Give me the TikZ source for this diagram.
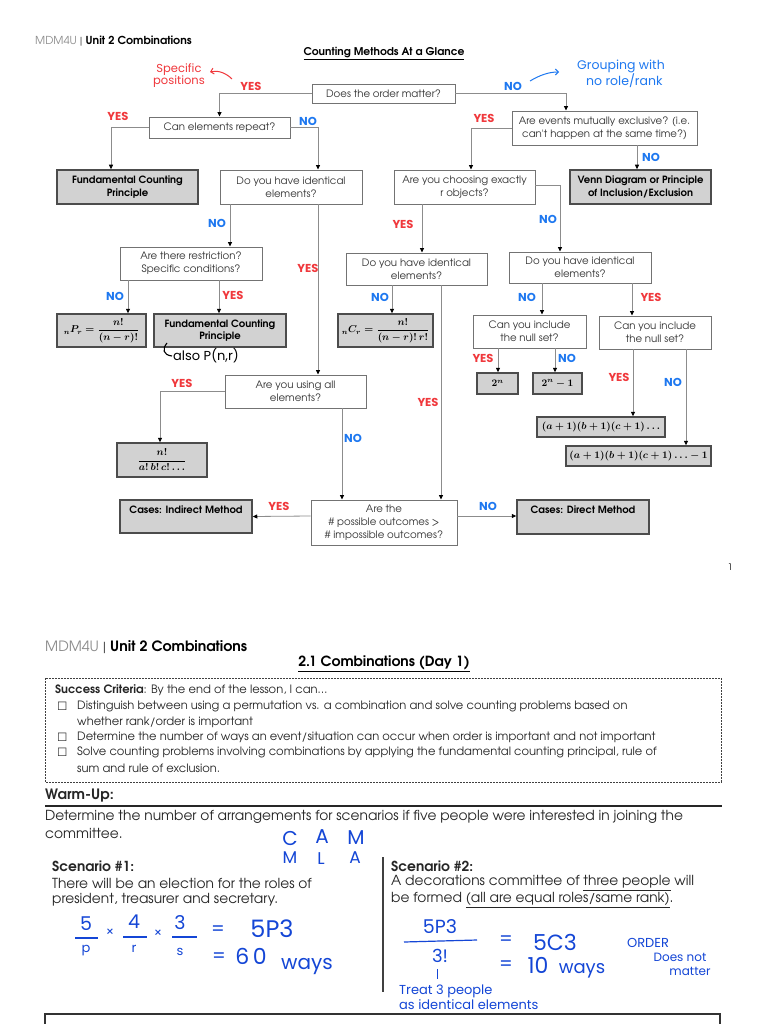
\documentclass[tikz,border=0pt]{standalone}
\usepackage{fontspec}
\usetikzlibrary{arrows.meta,calc}
\newfontfamily\adv{TeX Gyre Adventor}
\newfontfamily\hand{Poppins}
\newfontfamily\dejavu{DejaVu Sans}
\definecolor{hred}{HTML}{F0383C}
\definecolor{hblue}{HTML}{1E78F0}
\definecolor{ink}{HTML}{1446D6}
\definecolor{boxgray}{HTML}{D2D2D2}
\newcommand\qfont{\adv\fontsize{10.2}{12.8}\selectfont}
\newcommand\afont{\adv\bfseries\fontsize{10}{12.8}\selectfont}
\newcommand\lblfont{\hand\bfseries\fontsize{11.5}{12}\selectfont}
\newcommand\inkfont[1]{\hand\fontsize{#1}{#1}\selectfont}
\newcommand\mathsm{\fontsize{10}{12}\selectfont}
\newcommand\fnpr{\mbox{\boldmath$\displaystyle {}_{n}P_{r}=\frac{n!}{(n-r)!}$}}
\newcommand\fncr{\mbox{\boldmath$\displaystyle {}_{n}C_{r}=\frac{n!}{(n-r)!\,r!}$}}
\newcommand\fpow{\mbox{\boldmath$2^{n}$}}
\newcommand\fpowm{\mbox{\boldmath$2^{n}-1$}}
\newcommand\fabc{\mbox{\boldmath$(a+1)(b+1)(c+1)\ldots$}}
\newcommand\fabcm{\mbox{\boldmath$(a+1)(b+1)(c+1)\ldots-1$}}
\newcommand\fperm{\mbox{\boldmath$\displaystyle\frac{n!}{a!\,b!\,c!\ldots}$}}
\tikzset{
  q/.style={draw=black!55, line width=0.9pt, fill=white, align=center, inner sep=0pt, text=black!80, font=\qfont},
  ans/.style={draw=black!70, line width=1.5pt, fill=boxgray, align=center, inner sep=0pt, text=black, font=\afont},
  ansm/.style={ans, font=\mathsm},
  flow/.style={draw=black!45, line width=0.8pt, -{Triangle[length=4.5pt,width=4pt,color=black]}},
  yes/.style={text=hred, font=\lblfont, inner sep=0pt},
  no/.style={text=hblue, font=\lblfont, inner sep=0pt},
  inkw/.style={text=ink, inner sep=0pt},
  body/.style={anchor=west, inner sep=0pt, text=black!85, font=\adv\fontsize{13.8}{15}\selectfont},
  crit/.style={anchor=west, inner sep=0pt, text=black!85, font=\adv\fontsize{11.5}{13}\selectfont},
}
\begin{document}
\begin{tikzpicture}[x=1pt,y=-1pt]
\useasboundingbox (0,0) rectangle (768,1024);
\fill[white] (0,0) rectangle (768,1024);

% ---------------- Page 1 ----------------
\node[anchor=west, inner sep=0pt, font=\adv\fontsize{11}{12}\selectfont] (hdr1) at (35,41) {\textcolor{black!45}{MDM4U}\ \textcolor{black!70}{|}\ \textbf{Unit 2 Combinations}};
\node[inner sep=0pt, font=\adv\bfseries\fontsize{10.7}{12}\selectfont] (title1) at (384,54) {\underline{Counting Methods At a Glance}};

\node[q, minimum width=143pt, minimum height=19pt] (order) at (383.5,93.5) {Does the order matter?};
\node[q, minimum width=141pt, minimum height=21pt] (repeat) at (219.5,127.5) {Can elements repeat?};
\node[q, minimum width=185pt, minimum height=34pt] (mutex) at (604.5,128) {Are events mutually exclusive? (i.e.\\can't happen at the same time?)};
\node[ans, minimum width=141pt, minimum height=34pt] (fcp1) at (127.5,187) {Fundamental Counting\\Principle};
\node[q, minimum width=142pt, minimum height=34pt] (ident1) at (291,187) {Do you have identical\\elements?};
\node[q, minimum width=141pt, minimum height=34pt] (choose) at (464.5,187) {Are you choosing exactly\\r objects?};
\node[ans, minimum width=141pt, minimum height=34pt] (venn) at (640.5,187) {Venn Diagram or Principle\\of Inclusion/Exclusion};
\node[q, minimum width=142pt, minimum height=33pt] (restr) at (191,263.5) {Are there restriction?\\Specific conditions?};
\node[ansm, minimum width=89pt, minimum height=33pt] (npr) at (101.5,330.5) {\fnpr};
\node[ans, minimum width=132pt, minimum height=33pt] (fcp2) at (220,330.5) {Fundamental Counting\\Principle};
\node[q, minimum width=141pt, minimum height=32pt] (ident2) at (416.5,269) {Do you have identical\\elements?};
\node[ansm, minimum width=95pt, minimum height=33pt] (ncr) at (385.5,330.5) {\fncr};
\node[q, minimum width=142pt, minimum height=31pt] (ident3) at (580,267.5) {Do you have identical\\elements?};
\node[q, minimum width=113pt, minimum height=33pt] (null1) at (529.5,331.5) {Can you include\\the null set?};
\node[q, minimum width=112pt, minimum height=33pt] (null2) at (655,332.5) {Can you include\\the null set?};
\node[ansm, minimum width=41pt, minimum height=21pt] (pow) at (497.5,383.5) {\fpow};
\node[ansm, minimum width=49pt, minimum height=21pt] (powm) at (557.5,383.5) {\fpowm};
\node[ansm, minimum width=128pt, minimum height=20pt] (abc) at (601,427) {\fabc};
\node[ansm, minimum width=145pt, minimum height=20pt] (abcm) at (638.5,456) {\fabcm};
\node[q, minimum width=141pt, minimum height=33pt] (allel) at (295.5,391.5) {Are you using all\\elements?};
\node[ansm, minimum width=90pt, minimum height=34pt] (perm) at (162,460) {\fperm};
\node[q, minimum width=146pt, minimum height=45pt] (outc) at (384,522.5) {Are the\\\# possible outcomes >\\\# impossible outcomes?};
\node[ans, minimum width=132pt, minimum height=33pt, text depth=14pt] (indir) at (186,516.5) {Cases: Indirect Method};
\node[ans, minimum width=132pt, minimum height=34pt, text depth=14pt] (dir) at (583,517) {Cases: Direct Method};
\node[inner sep=0pt, font=\adv\fontsize{9}{10}\selectfont] (pg1) at (730,567) {1};

% connectors
\draw[flow] (order.west) -| (repeat.north);
\draw[flow] (order.east) -| ([xshift=-38.5pt]mutex.north);
\draw[flow] (repeat.west) -| ([xshift=-16.5pt]fcp1.north);
\draw[flow] (repeat.east) -| ([xshift=27pt]ident1.north);
\draw[flow] (mutex.west) -| ([xshift=6.5pt]choose.north);
\draw[flow] ([xshift=32.5pt]mutex.south) -- ([xshift=-3.5pt]venn.north);
\draw[flow] ([xshift=-61pt]ident1.south) -- ([xshift=39pt]restr.north);
\draw[flow] ([xshift=27pt]ident1.south) -- ([xshift=22.5pt]allel.north);
\draw[flow] ([xshift=-63pt]restr.south) -- ([xshift=26.5pt]npr.north);
\draw[flow] ([xshift=28pt]restr.south) -- ([xshift=-1pt]fcp2.north);
\draw[flow] ([xshift=-42.5pt]choose.south) -- ([xshift=5.5pt]ident2.north);
\draw[flow] ([yshift=2pt]choose.east) -| ([xshift=-20pt]ident3.north);
\draw[flow] ([xshift=-24.5pt]ident2.south) -- ([xshift=6.5pt]ncr.north);
\draw[flow] ([xshift=24.5pt]ident2.south) -- ([xshift=57pt]outc.north);
\draw[flow] ([xshift=-38pt]ident3.south) -- ([xshift=12.5pt]null1.north);
\draw[flow] ([xshift=52pt]ident3.south) -- ([xshift=-23pt]null2.north);
\draw[flow] ([xshift=-31.5pt]null1.south) -- ([xshift=0.5pt]pow.north);
\draw[flow] ([xshift=25.5pt]null1.south) -- ([xshift=-2.5pt]powm.north);
\draw[flow] ([xshift=-22pt]null2.south) -- ([xshift=32pt]abc.north);
\draw[flow] ([xshift=31pt]null2.south) -- ([xshift=47.5pt]abcm.north);
\draw[flow] (allel.west) -| ([xshift=-2pt]perm.north);
\draw[flow] ([xshift=46.5pt]allel.south) -- ([xshift=-42pt]outc.north);
\draw[flow] ([yshift=6.5pt]outc.west) -- (indir.east);
\draw[flow] ([yshift=6.5pt]outc.east) -- ([yshift=1pt]dir.west);

% labels
\node[yes] (l1) at (251,86) {YES};
\node[no]  (l2) at (513,86) {NO};
\node[yes] (l3) at (118,116) {YES};
\node[no]  (l4) at (308,121) {NO};
\node[yes] (l5) at (484,118) {YES};
\node[no]  (l6) at (651,157) {NO};
\node[no]  (l7) at (217,223) {NO};
\node[yes] (l8) at (308,268) {YES};
\node[no]  (l9) at (115,296) {NO};
\node[yes] (l10) at (233,295) {YES};
\node[yes] (l11) at (403,224) {YES};
\node[no]  (l12) at (548,219) {NO};
\node[no]  (l13) at (380,297) {NO};
\node[yes] (l14) at (428,402) {YES};
\node[no]  (l15) at (527,297) {NO};
\node[yes] (l16) at (651,297) {YES};
\node[yes] (l17) at (483,358) {YES};
\node[no]  (l18) at (567,358) {NO};
\node[yes] (l19) at (619,377) {YES};
\node[no]  (l20) at (673,382) {NO};
\node[yes] (l21) at (182,383) {YES};
\node[no]  (l22) at (353,438) {NO};
\node[yes] (l23) at (279,506) {YES};
\node[no]  (l24) at (488,506) {NO};

% annotations
\node[text=hred, inner sep=0pt, align=center, font=\hand\fontsize{11.5}{12}\selectfont] (spec) at (179,76) {Specific\\positions};
\coordinate (specA) at (232,79);
\coordinate (specB) at (210,72);
\draw[hred, line width=1pt, -{Straight Barb[length=3pt]}] (specA) .. controls (226,73) and (218,70) .. (specB);
\node[text=hblue, inner sep=0pt, align=center, font=\hand\fontsize{12.5}{12.5}\selectfont] (grp) at (621,74) {Grouping with\\\ \ no role/rank};
\coordinate (grpA) at (530,81);
\coordinate (grpB) at (559,72);
\draw[hblue, line width=1pt, -{Straight Barb[length=3pt]}] (grpA) .. controls (540,75) and (549,72) .. (grpB);
\node[inner sep=0pt, font=\hand\fontsize{13}{13}\selectfont] (also) at (206,356) {also P(n,r)};
\coordinate (hookA) at (167,343);
\coordinate (hookB) at (172,356);
\draw[black, line width=1.1pt] (hookA) .. controls (162,349) and (163,355) .. (hookB);

% ---------------- Page 2 ----------------
\node[anchor=west, inner sep=0pt, font=\adv\fontsize{14.2}{16}\selectfont] (hdr2) at (45,647) {\textcolor{black!45}{MDM4U}\ \textcolor{black!70}{|}\ \textbf{Unit 2 Combinations}};
\node[inner sep=0pt, font=\adv\bfseries\fontsize{14}{16}\selectfont] (title2) at (384,664) {\underline{2.1 Combinations (Day 1)}};

\draw[black!75, line width=0.9pt, dash pattern=on 2pt off 1pt] (45,678) rectangle (721,782);
\node[crit] (sc0) at (55,690) {\textbf{Success Criteria}: By the end of the lesson, I can…};
\node[crit] (cb1) at (57,706) {\dejavu ☐};
\node[crit] (sc1) at (77,706) {Distinguish between using a permutation vs. a combination and solve counting problems based on};
\node[crit] (sc1b) at (77,722) {whether rank/order is important};
\node[crit] (cb2) at (57,737) {\dejavu ☐};
\node[crit] (sc2) at (77,737) {Determine the number of ways an event/situation can occur when order is important and not important};
\node[crit] (cb3) at (57,752) {\dejavu ☐};
\node[crit] (sc3) at (77,752) {Solve counting problems involving combinations by applying the fundamental counting principal, rule of};
\node[crit] (sc3b) at (77,768) {sum and rule of exclusion.};

\node[body, font=\adv\bfseries\fontsize{14.3}{16}\selectfont] (warm) at (45,796) {Warm-Up:};
\draw[black!85, line width=1.2pt] (45,806) -- (722,806);
\node[body] (w1) at (45,817) {Determine the number of arrangements for scenarios if five people were interested in joining the};
\node[body] (w2) at (45,833) {committee.};

\node[body, font=\adv\bfseries\fontsize{13.8}{15}\selectfont] (s1) at (52,866) {Scenario \#1:};
\node[body] (s1a) at (52,883) {There will be an election for the roles of};
\node[body] (s1b) at (52,900) {president, treasurer and secretary.};
\draw[black!75, line width=1.3pt] (383,857) -- (383,992);
\node[body, font=\adv\bfseries\fontsize{13.8}{15}\selectfont] (s2) at (391,866) {Scenario \#2:};
\node[body] (s2a) at (391,883) {A decorations committee of \underline{three people} will};
\node[body] (s2b) at (391,900) {be formed \underline{(all are equal roles/same rank)}.};

% handwriting page 2
\node[inkw, font=\inkfont{20}] (c1) at (290,838) {C};
\node[inkw, font=\inkfont{20}] (c2) at (322,837) {A};
\node[inkw, font=\inkfont{20}] (c3) at (356,838) {M};
\node[inkw, font=\inkfont{17}] (c4) at (290,858) {M};
\node[inkw, font=\inkfont{17}] (c5) at (321,859) {L};
\node[inkw, font=\inkfont{17}] (c6) at (355,858) {A};

\node[inkw, font=\inkfont{19}] (f1n) at (86,924) {5};
\node[inkw, font=\inkfont{13}] (f1d) at (86,951) {p};
\draw[ink, line width=1.2pt] (75,938) -- (98,938);
\node[inkw, font=\inkfont{13}] (x1) at (110,933) {×};
\node[inkw, font=\inkfont{19}] (f2n) at (134,922) {4};
\node[inkw, font=\inkfont{13}] (f2d) at (134,949) {r};
\draw[ink, line width=1.2pt] (123,937) -- (147,937);
\node[inkw, font=\inkfont{13}] (x2) at (158,934) {×};
\node[inkw, font=\inkfont{19}] (f3n) at (180,923) {3};
\node[inkw, font=\inkfont{13}] (f3d) at (180,952) {s};
\draw[ink, line width=1.2pt] (172,937) -- (197,937);
\node[inkw, font=\inkfont{19}] (eq1) at (218,931) {=};
\node[inkw, font=\inkfont{24}] (p53) at (272,929) {5P3};
\node[inkw, font=\inkfont{19}] (eq2) at (219,958) {=};
\node[inkw, font=\inkfont{22}] (sixty) at (251,956) {6\,0};
\node[inkw, font=\inkfont{20}] (ways1) at (307,966) {ways};

\node[inkw, font=\inkfont{19}] (g1) at (440,927) {5P3};
\draw[ink, line width=1.2pt] (404,942) -- (477,940);
\node[inkw, font=\inkfont{18}] (g2) at (440,956) {3!};
\coordinate (tarA) at (437,969);
\coordinate (tarB) at (437,979);
\draw[ink, line width=1pt] (tarA) -- (tarB);
\node[inkw, font=\inkfont{19}] (eq3) at (506,941) {=};
\node[inkw, font=\inkfont{22}] (c53) at (555,942) {5C3};
\node[inkw, font=\inkfont{19}] (eq4) at (506,966) {=};
\node[inkw, font=\inkfont{22}] (ten) at (538,965) {10};
\node[inkw, font=\inkfont{18}] (ways2) at (582,971) {ways};
\node[inkw, anchor=west, font=\inkfont{13}] (tr1) at (399,991) {Treat 3 people};
\node[inkw, anchor=west, font=\inkfont{13}] (tr2) at (399,1005) {as identical elements};
\node[inkw, font=\inkfont{13}] (od1) at (648,943) {ORDER};
\node[inkw, font=\inkfont{12}] (od2) at (680,957) {Does not};
\node[inkw, font=\inkfont{12}] (od3) at (690,971) {matter};

\draw[black!80, line width=1.3pt] (45,1030) -- (45,1014) -- (720,1014) -- (720,1030);
\end{tikzpicture}
\end{document}
